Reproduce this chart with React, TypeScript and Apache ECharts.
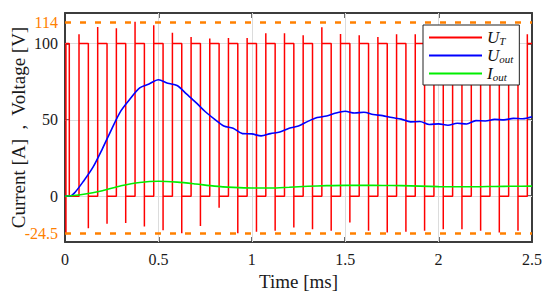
import React, { useEffect, useRef } from "react";
import * as echarts from "echarts";

// ---- data ----
const xMin = 0;
const xMax = 2.5;
const yMin = -30;
const yMax = 120;
const yLabelValues = [-24.5, 0, 50, 100, 114];
const yTickValues = [0, 50, 100];
const yGridValues = [0, 50, 100];
const xGridValues = [0.5, 1, 1.5, 2];
const upperLimit = 114;
const lowerLimit = -24.5;

// U_T: start-up pulse, then switching edges
const utStart: [number, number][] = [
  [0, 0], [0.005, 0], [0.005, -24.9], [0.005, 100], [0.023, 100], [0.023, 0],
];
const utHigh = 100;
const utLow = 0;
const risingTimes = [
  0.075, 0.175, 0.275, 0.375, 0.475, 0.575, 0.675, 0.775, 0.875, 0.975,
  1.075, 1.175, 1.275, 1.375, 1.475, 1.575, 1.675, 1.775, 1.875, 1.975,
  2.075, 2.175, 2.275, 2.375, 2.475,
];
const risingPeaks = [
  106, 110.8, 110, 114.3, 112, 107, 104.3, 103.3, 103.7, 103.7,
  106.7, 106.7, 105.4, 110.6, 106.3, 105.4, 104.2, 106, 106, 105,
  105, 105, 106, 105, 106,
];
const fallingTimes = [
  0.125, 0.225, 0.325, 0.425, 0.525, 0.625, 0.725, 0.825, 0.925, 1.025,
  1.125, 1.225, 1.325, 1.425, 1.525, 1.625, 1.725, 1.825, 1.925, 2.025,
  2.125, 2.225, 2.325, 2.425,
];
const fallingTroughs = [
  -21, -18, -17.5, -19.8, -22.3, -24.2, -19.5, -7.6, -24.2, -23.3,
  -22.7, -20.5, -21.6, -22.7, -17.3, -22.7, -23.8, -23.3, -22.7, -21.6,
  -21.6, -22.7, -23.8, -22.7,
];

const uoutTime = [
  0, 0.025, 0.05, 0.1, 0.15, 0.2, 0.25, 0.3, 0.35, 0.4, 0.45, 0.5, 0.55, 0.6,
  0.65, 0.7, 0.75, 0.8, 0.85, 0.9, 0.95, 1.0, 1.05, 1.1, 1.15, 1.2, 1.25, 1.3,
  1.35, 1.4, 1.45, 1.5, 1.55, 1.6, 1.65, 1.7, 1.75, 1.8, 1.85, 1.9, 1.95, 2.0,
  2.05, 2.1, 2.15, 2.2, 2.25, 2.3, 2.35, 2.4, 2.45, 2.5,
];
const uoutValues = [
  0, 0, 2, 10, 19, 31, 44, 56, 64, 71, 73.5, 76.3, 74, 72.5,
  67, 61.5, 55.5, 50.5, 46, 44.5, 41, 40.8, 39.5, 41, 42, 44.5, 46, 49,
  51.5, 52.5, 54.5, 55.6, 54.5, 55, 53.5, 52.8, 51.5, 50.5, 48.7, 48.9, 47, 47.4,
  46.5, 47.8, 47.3, 49.5, 49.3, 50.3, 50, 51, 50.7, 52,
];

const ioutTime = [
  0, 0.1, 0.2, 0.3, 0.4, 0.5, 0.6, 0.7, 0.8, 0.9, 1.0, 1.1, 1.2, 1.3,
  1.4, 1.5, 1.6, 1.7, 1.8, 1.9, 2.0, 2.1, 2.2, 2.3, 2.4, 2.5,
];
const ioutValues = [
  0, 1.3, 3.6, 6.8, 9, 9.8, 9.2, 8, 6.6, 5.8, 5.4, 5.4, 5.9, 6.5,
  6.9, 7.1, 7.1, 7, 6.9, 6.6, 6.3, 6.2, 6.2, 6.4, 6.5, 6.6,
];

const FONT = "Liberation Serif";
const AXIS_COLOR = "#3c3c3c";
const ORANGE = "#ff8000";

function buildUT(): [number, number][] {
  const pts: [number, number][] = [...utStart];
  let ri = 0;
  let fi = 0;
  while (ri < risingTimes.length || fi < fallingTimes.length) {
    const nextR = ri < risingTimes.length ? risingTimes[ri] : Infinity;
    const nextF = fi < fallingTimes.length ? fallingTimes[fi] : Infinity;
    if (nextR <= nextF) {
      pts.push([nextR, utLow], [nextR, risingPeaks[ri]], [nextR, utHigh]);
      ri++;
    } else {
      pts.push([nextF, utHigh], [nextF, fallingTroughs[fi]], [nextF, utLow]);
      fi++;
    }
  }
  pts.push([xMax, utHigh]);
  return pts;
}

export default function App() {
  const ref = useRef<HTMLDivElement>(null);
  useEffect(() => {
    document.body.style.margin = "0";
    const chart = echarts.init(ref.current!, null, { renderer: "svg" });
    const grid = { left: 65, right: 18, top: 13, bottom: 56 };
    const tickStyle = { show: true, inside: true, length: 5, lineStyle: { color: AXIS_COLOR, width: 1.5 } };
    const axisLine = { show: true, onZero: false, lineStyle: { color: AXIS_COLOR, width: 2 } };
    const gridLine = { color: "#dcdcdc", width: 1, type: "solid" };

    chart.setOption({
      animation: false,
      backgroundColor: "#ffffff",
      grid: { ...grid, containLabel: false, outerBoundsMode: "none" },
      legend: {
        left: 423,
        top: 25,
        orient: "vertical",
        data: ["UT", "Uout", "Iout"],
        backgroundColor: "#ffffff",
        borderColor: "#222222",
        borderWidth: 1,
        borderRadius: 0,
        padding: [4, 6, 3, 5],
        itemGap: 1,
        itemWidth: 53,
        itemHeight: 14,
        itemStyle: { opacity: 0 },
        formatter: (name: string) => {
          if (name === "UT") return "{m|U}{s|T}";
          if (name === "Uout") return "{m|U}{s|out}";
          return "{m|I}{s|out}";
        },
        textStyle: {
          fontFamily: FONT,
          fontStyle: "italic",
          fontSize: 17,
          color: "#000",
          rich: {
            m: { fontFamily: FONT, fontStyle: "italic", fontSize: 17, lineHeight: 17, color: "#111" },
            s: { fontFamily: FONT, fontStyle: "italic", fontSize: 11, lineHeight: 8, verticalAlign: "bottom", color: "#111" },
          },
        },
      },
      xAxis: [
        {
          type: "value",
          min: xMin,
          max: xMax,
          interval: 0.5,
          position: "bottom",
          name: "Time [ms]",
          nameLocation: "middle",
          nameGap: 30,
          nameTextStyle: { fontFamily: FONT, fontSize: 19, color: "#1a1a1a" },
          axisLine,
          axisTick: tickStyle,
          axisLabel: { fontFamily: FONT, fontSize: 16, color: "#1a1a1a", margin: 9, formatter: (v: number) => String(v) },
          splitLine: { show: false },
        },
        {
          type: "value",
          min: xMin,
          max: xMax,
          interval: 0.5,
          position: "top",
          axisLine,
          axisTick: tickStyle,
          axisLabel: { show: false },
          splitLine: { show: false },
        },
      ],
      yAxis: [
        {
          type: "value",
          min: yMin,
          max: yMax,
          position: "left",
          name: "Current [A]  ,  Voltage [V]",
          nameLocation: "middle",
          nameGap: 37,
          nameMoveOverlap: false,
          nameTextStyle: { fontFamily: FONT, fontSize: 19, color: "#1a1a1a" },
          axisLine,
          axisTick: { ...tickStyle, customValues: yTickValues },
          axisLabel: {
            fontFamily: FONT,
            fontSize: 16,
            color: "#1a1a1a",
            margin: 7,
            customValues: yLabelValues,
            formatter: (v: number) => (v === upperLimit || v === lowerLimit ? `{o|${v}}` : `${v}`),
            rich: { o: { fontFamily: FONT, fontSize: 16, color: ORANGE } },
          },
          splitLine: { show: false },
        },
        {
          type: "value",
          min: yMin,
          max: yMax,
          position: "right",
          axisLine,
          axisTick: { ...tickStyle, customValues: yTickValues },
          axisLabel: { show: false },
          splitLine: { show: false },
        },
      ],
      series: [
        {
          name: "gridlines",
          type: "line",
          data: [],
          silent: true,
          z: 1,
          markLine: {
            z: 1,
            silent: true,
            symbol: "none",
            label: { show: false },
            lineStyle: gridLine,
            data: [
              ...yGridValues.map((v) => ({ yAxis: v })),
              ...xGridValues.map((v) => ({ xAxis: v })),
            ],
          },
        },
        {
          name: "UT",
          type: "line",
          data: buildUT(),
          showSymbol: false,
          symbol: "none",
          lineStyle: { color: "#ff0000", width: 1.5 },
          itemStyle: { color: "#ff0000" },
          z: 2,
        },
        {
          name: "Uout",
          type: "line",
          data: uoutTime.map((t, i) => [t, uoutValues[i]]),
          showSymbol: false,
          symbol: "none",
          smooth: 0.3,
          lineStyle: { color: "#0000ff", width: 1.6 },
          itemStyle: { color: "#0000ff" },
          z: 3,
        },
        {
          name: "Iout",
          type: "line",
          data: ioutTime.map((t, i) => [t, ioutValues[i]]),
          showSymbol: false,
          symbol: "none",
          smooth: 0.3,
          lineStyle: { color: "#00ee00", width: 1.6 },
          itemStyle: { color: "#00ee00" },
          z: 4,
        },
        {
          name: "limits",
          type: "line",
          data: [],
          silent: true,
          z: 5,
          markLine: {
            z: 5,
            silent: true,
            symbol: "none",
            label: { show: false },
            lineStyle: { color: ORANGE, width: 2.5, type: [6, 9] },
            data: [{ yAxis: upperLimit }, { yAxis: lowerLimit }],
          },
        },
      ],
    });
    return () => chart.dispose();
  }, []);
  return <div ref={ref} style={{ position: "absolute", left: 0, top: 0, width: 550, height: 298 }} />;
}
